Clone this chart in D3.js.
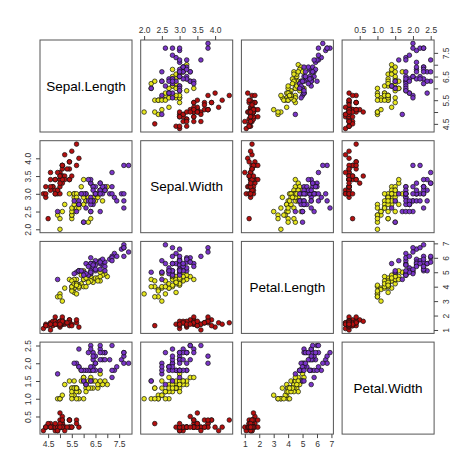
<!DOCTYPE html><html><head><meta charset="utf-8">
<script src="https://cdn.jsdelivr.net/npm/d3@7"></script>
<style>body{margin:0;background:#fff}</style></head><body>
<script>
const varNames=["Sepal.Length","Sepal.Width","Petal.Length","Petal.Width"];
const speciesNames=["setosa","versicolor","virginica"];
const speciesColors=["#b50f0f","#e6e61e","#7a35c8"];
const sepalLength=[5.1,4.9,4.7,4.6,5.0,5.4,4.6,5.0,4.4,4.9,5.4,4.8,4.8,4.3,5.8,5.7,5.4,5.1,5.7,5.1,5.4,5.1,4.6,5.1,4.8,5.0,5.0,5.2,5.2,4.7,4.8,5.4,5.2,5.5,4.9,5.0,5.5,4.9,4.4,5.1,5.0,4.5,4.4,5.0,5.1,4.8,5.1,4.6,5.3,5.0,
7.0,6.4,6.9,5.5,6.5,5.7,6.3,4.9,6.6,5.2,5.0,5.9,6.0,6.1,5.6,6.7,5.6,5.8,6.2,5.6,5.9,6.1,6.3,6.1,6.4,6.6,6.8,6.7,6.0,5.7,5.5,5.5,5.8,6.0,5.4,6.0,6.7,6.3,5.6,5.5,5.5,6.1,5.8,5.0,5.6,5.7,5.7,6.2,5.1,5.7,
6.3,5.8,7.1,6.3,6.5,7.6,4.9,7.3,6.7,7.2,6.5,6.4,6.8,5.7,5.8,6.4,6.5,7.7,7.7,6.0,6.9,5.6,7.7,6.3,6.7,7.2,6.2,6.1,6.4,7.2,7.4,7.9,6.4,6.3,6.1,7.7,6.3,6.4,6.0,6.9,6.7,6.9,5.8,6.8,6.7,6.7,6.3,6.5,6.2,5.9];
const sepalWidth=[3.5,3.0,3.2,3.1,3.6,3.9,3.4,3.4,2.9,3.1,3.7,3.4,3.0,3.0,4.0,4.4,3.9,3.5,3.8,3.8,3.4,3.7,3.6,3.3,3.4,3.0,3.4,3.5,3.4,3.2,3.1,3.4,4.1,4.2,3.1,3.2,3.5,3.6,3.0,3.4,3.5,2.3,3.2,3.5,3.8,3.0,3.8,3.2,3.7,3.3,
3.2,3.2,3.1,2.3,2.8,2.8,3.3,2.4,2.9,2.7,2.0,3.0,2.2,2.9,2.9,3.1,3.0,2.7,2.2,2.5,3.2,2.8,2.5,2.8,2.9,3.0,2.8,3.0,2.9,2.6,2.4,2.4,2.7,2.7,3.0,3.4,3.1,2.3,3.0,2.5,2.6,3.0,2.6,2.3,2.7,3.0,2.9,2.9,2.5,2.8,
3.3,2.7,3.0,2.9,3.0,3.0,2.5,2.9,2.5,3.6,3.2,2.7,3.0,2.5,2.8,3.2,3.0,3.8,2.6,2.2,3.2,2.8,2.8,2.7,3.3,3.2,2.8,3.0,2.8,3.0,2.8,3.8,2.8,2.8,2.6,3.0,3.4,3.1,3.0,3.1,3.1,3.1,2.7,3.2,3.3,3.0,2.5,3.0,3.4,3.0];
const petalLength=[1.4,1.4,1.3,1.5,1.4,1.7,1.4,1.5,1.4,1.5,1.5,1.6,1.4,1.1,1.2,1.5,1.3,1.4,1.7,1.5,1.7,1.5,1.0,1.7,1.9,1.6,1.6,1.5,1.4,1.6,1.6,1.5,1.5,1.4,1.5,1.2,1.3,1.4,1.3,1.5,1.3,1.3,1.3,1.6,1.9,1.4,1.6,1.4,1.5,1.4,
4.7,4.5,4.9,4.0,4.6,4.5,4.7,3.3,4.6,3.9,3.5,4.2,4.0,4.7,3.6,4.4,4.5,4.1,4.5,3.9,4.8,4.0,4.9,4.7,4.3,4.4,4.8,5.0,4.5,3.5,3.8,3.7,3.9,5.1,4.5,4.5,4.7,4.4,4.1,4.0,4.4,4.6,4.0,3.3,4.2,4.2,4.2,4.3,3.0,4.1,
6.0,5.1,5.9,5.6,5.8,6.6,4.5,6.3,5.8,6.1,5.1,5.3,5.5,5.0,5.1,5.3,5.5,6.7,6.9,5.0,5.7,4.9,6.7,4.9,5.7,6.0,4.8,4.9,5.6,5.8,6.1,6.4,5.6,5.1,5.6,6.1,5.6,5.5,4.8,5.4,5.6,5.1,5.1,5.9,5.7,5.2,5.0,5.2,5.4,5.1];
const petalWidth=[0.2,0.2,0.2,0.2,0.2,0.4,0.3,0.2,0.2,0.1,0.2,0.2,0.1,0.1,0.2,0.4,0.4,0.3,0.3,0.3,0.2,0.4,0.2,0.5,0.2,0.2,0.4,0.2,0.2,0.2,0.2,0.4,0.1,0.2,0.2,0.2,0.2,0.1,0.2,0.2,0.3,0.3,0.2,0.6,0.4,0.3,0.2,0.2,0.2,0.2,
1.4,1.5,1.5,1.3,1.5,1.3,1.6,1.0,1.3,1.4,1.0,1.5,1.0,1.4,1.3,1.4,1.5,1.0,1.5,1.1,1.8,1.3,1.5,1.2,1.3,1.4,1.4,1.7,1.5,1.0,1.1,1.0,1.2,1.6,1.5,1.6,1.5,1.3,1.3,1.3,1.2,1.4,1.2,1.0,1.3,1.2,1.3,1.3,1.1,1.3,
2.5,1.9,2.1,1.8,2.2,2.1,1.7,1.8,1.8,2.5,2.0,1.9,2.1,2.0,2.4,2.3,1.8,2.2,2.3,1.5,2.3,2.0,2.0,1.8,2.1,1.8,1.8,1.8,2.1,1.6,1.9,2.0,2.2,1.5,1.4,2.3,2.4,1.8,1.8,2.1,2.4,2.3,1.9,2.3,2.5,2.3,1.9,2.0,2.3,1.8];
const species=d3.range(150).map(i=>Math.floor(i/50));
const tickValues=[[4.5,5.0,5.5,6.0,6.5,7.0,7.5],[2.0,2.5,3.0,3.5,4.0],[1,2,3,4,5,6,7],[0.5,1.0,1.5,2.0,2.5]];
const tickLabels=[["4.5","","5.5","","6.5","","7.5"],["2.0","2.5","3.0","3.5","4.0"],["1","2","3","4","5","6","7"],["0.5","1.0","1.5","2.0","2.5"]];

const cols=[sepalLength,sepalWidth,petalLength,petalWidth];
const W=474,x0=40,size=92,step=100.7;
const svg=d3.select("body").append("svg").attr("width",W).attr("height",W).style("font-family","Liberation Sans, Arial, sans-serif");
const scalesX=cols.map((c,k)=>{const e=d3.extent(c),p=(e[1]-e[0])*0.04;return d3.scaleLinear().domain([e[0]-p,e[1]+p]).range([0,size]);});
const scalesY=cols.map((c,k)=>{const e=d3.extent(c),p=(e[1]-e[0])*0.04;return d3.scaleLinear().domain([e[0]-p,e[1]+p]).range([size,0]);});
function styleAxis(g,k){g.selectAll("path,line").attr("stroke","#444");g.selectAll("text").attr("fill","#333").style("font-size","8.5px").text((d,i)=>tickLabels[k][i]);}
for(let i=0;i<4;i++)for(let j=0;j<4;j++){
  const g=svg.append("g").attr("transform",`translate(${x0+j*step},${x0+i*step})`);
  if(i===j){
    g.append("text").attr("x",size/2).attr("y",size/2).attr("text-anchor","middle").attr("dominant-baseline","central").style("font-size","13.5px").text(varNames[i]);
  } else {
    g.selectAll("circle").data(d3.range(150)).join("circle")
      .attr("cx",d=>scalesX[j](cols[j][d])).attr("cy",d=>scalesY[i](cols[i][d])).attr("r",2.3)
      .attr("fill",d=>speciesColors[species[d]]).attr("stroke","#111").attr("stroke-width",0.7);
  }
  g.append("rect").attr("width",size).attr("height",size).attr("fill","none").attr("stroke","#555").attr("stroke-width",1);
  if(i===0&&j%2===1){const a=g.append("g").call(d3.axisTop(scalesX[j]).tickValues(tickValues[j]).tickSize(4).tickPadding(3));a.select(".domain").remove();styleAxis(a,j);}
  if(i===3&&j%2===0){const a=g.append("g").attr("transform",`translate(0,${size})`).call(d3.axisBottom(scalesX[j]).tickValues(tickValues[j]).tickSize(4).tickPadding(3));a.select(".domain").remove();styleAxis(a,j);}
  if(j===0&&i%2===1){const a=g.append("g").call(d3.axisLeft(scalesY[i]).tickValues(tickValues[i]).tickSize(4).tickPadding(3));a.select(".domain").remove();styleAxis(a,i);
    a.selectAll("text").attr("transform","rotate(-90)").attr("x",0).attr("y",-9).attr("dy","0").attr("text-anchor","middle");}
  if(j===3&&i%2===0){const a=g.append("g").attr("transform",`translate(${size},0)`).call(d3.axisRight(scalesY[i]).tickValues(tickValues[i]).tickSize(4).tickPadding(3));a.select(".domain").remove();styleAxis(a,i);
    a.selectAll("text").attr("transform","rotate(-90)").attr("x",0).attr("y",9).attr("dy","0.7em").attr("text-anchor","middle");}
}
</script></body></html>
